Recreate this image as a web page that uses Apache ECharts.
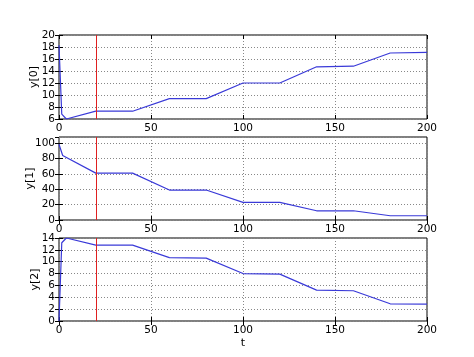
<!DOCTYPE html>
<html>
<head>
<meta charset="utf-8">
<script src="https://cdn.jsdelivr.net/npm/echarts@6/dist/echarts.min.js"></script>
<style>html,body{margin:0;padding:0;background:#fff}#c{width:474px;height:357px}</style>
</head>
<body>
<div id="c"></div>
<script>
// ---- data ----
var t0 = [0, 1.5, 4, 20, 40, 60, 80, 100, 120, 140, 160, 180, 200];
var y0 = [18.3, 6.8, 6.0, 7.3, 7.3, 9.4, 9.4, 12.0, 12.0, 14.7, 14.8, 17.0, 17.1];
var t1 = [0, 2, 20, 40, 60, 80, 100, 120, 140, 160, 180, 200];
var y1 = [98.5, 84, 61, 61, 39, 39, 23, 23, 12, 12, 5.5, 5.5];
var t2 = [0, 1.5, 4, 20, 40, 60, 80, 100, 120, 140, 160, 180, 200];
var y2 = [0, 13.2, 14.0, 12.8, 12.8, 10.7, 10.6, 8.0, 7.9, 5.2, 5.1, 2.9, 2.85];
var eventT = 20;
var yNames = ['y[0]', 'y[1]', 'y[2]'];
var xName = 't';

function pairs(t, y) { return t.map(function (v, i) { return [v, y[i]]; }); }

var font = 'DejaVu Sans';
var grids = [
  {left: 59, right: 47, top: 35, height: 84},
  {left: 59, right: 47, top: 137, height: 83},
  {left: 59, right: 47, top: 238, height: 83}
];
var yRanges = [{min: 6, max: 20, interval: 2}, {min: 0, max: 108, interval: 20}, {min: 0, max: 14, interval: 2}];
var yNameGaps = [19, 23, 18];
var splitStyle = {show: true, lineStyle: {color: '#888', type: [1, 2], width: 1}};
var gridOpt = grids.map(function (g) {
  return Object.assign({show: true, borderColor: '#000', borderWidth: 1, backgroundColor: 'transparent'}, g);
});
var xAxes = [], yAxes = [], series = [];
var allT = [t0, t1, t2], allY = [y0, y1, y2];
for (var i = 0; i < 3; i++) {
  xAxes.push({
    type: 'value', gridIndex: i, min: 0, max: 200, interval: 50, position: 'bottom',
    name: i === 2 ? xName : '', nameLocation: 'middle', nameGap: 17, nameMoveOverlap: false,
    nameTextStyle: {fontFamily: font, fontSize: 11, color: '#000'},
    axisLine: {show: false}, axisTick: {show: true, inside: true, length: 4, lineStyle: {color: '#000'}},
    axisLabel: {fontFamily: font, fontSize: 10.5, color: '#000', margin: 4},
    splitLine: splitStyle
  });
  xAxes.push({
    type: 'value', gridIndex: i, min: 0, max: 200, interval: 50, position: 'top',
    axisLine: {show: false}, axisTick: {show: true, inside: true, length: 4, lineStyle: {color: '#000'}},
    axisLabel: {show: false}, splitLine: {show: false}
  });
  var r = yRanges[i];
  yAxes.push({
    type: 'value', gridIndex: i, min: r.min, max: r.max, interval: r.interval, position: 'left',
    name: yNames[i], nameLocation: 'middle', nameGap: yNameGaps[i], nameRotate: 90, nameMoveOverlap: false,
    nameTextStyle: {fontFamily: font, fontSize: 11, color: '#000'},
    axisLine: {show: false}, axisTick: {show: true, inside: true, length: 4, lineStyle: {color: '#000'}},
    axisLabel: {fontFamily: font, fontSize: 10.5, color: '#000', margin: 4, showMaxLabel: i !== 1},
    splitLine: splitStyle
  });
  yAxes.push({
    type: 'value', gridIndex: i, min: r.min, max: r.max, interval: r.interval, position: 'right',
    axisLine: {show: false}, axisTick: {show: true, inside: true, length: 4, lineStyle: {color: '#000'}},
    axisLabel: {show: false}, splitLine: {show: false}
  });
  series.push({
    type: 'line', xAxisIndex: 2 * i, yAxisIndex: 2 * i, data: pairs(allT[i], allY[i]),
    symbol: 'none', smooth: false, clip: true,
    lineStyle: {color: '#3a3ad8', width: 1.2},
    markLine: {
      silent: true, symbol: 'none', label: {show: false},
      lineStyle: {color: '#e02020', width: 1, type: 'solid'},
      data: [{xAxis: eventT}]
    },
    animation: false
  });
}
var chart = echarts.init(document.getElementById('c'), null, {renderer: 'canvas'});
chart.setOption({
  animation: false,
  grid: gridOpt,
  xAxis: xAxes,
  yAxis: yAxes,
  series: series
});
</script>
</body>
</html>
